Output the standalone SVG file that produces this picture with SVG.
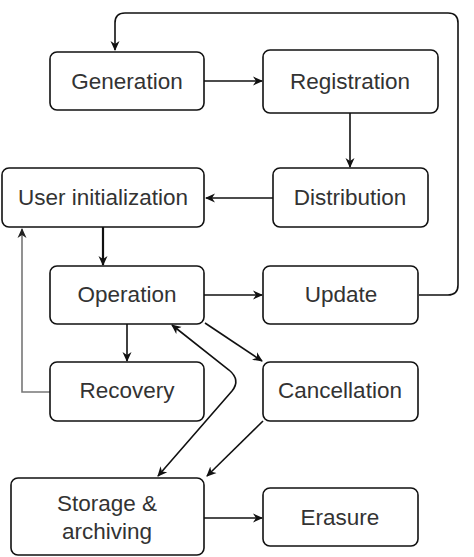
<svg xmlns="http://www.w3.org/2000/svg" width="474" height="557" viewBox="0 0 474 557">
<style>
.box{fill:#fff;stroke:#111;stroke-width:1.6}
.lbl{font-family:"Liberation Sans",Arial,sans-serif;font-size:22.5px;fill:#333;text-anchor:middle;dominant-baseline:central}
.c{fill:none;stroke:#111;stroke-width:1.6}
</style>
<defs>
<marker id="ah" viewBox="0 0 10 10" refX="9" refY="5" markerWidth="10" markerHeight="10" markerUnits="userSpaceOnUse" orient="auto-start-reverse">
<path d="M0,0.5 L10,5 L0,9.5 L3,5 Z" fill="#111"/>
</marker>
<marker id="ahg" viewBox="0 0 10 10" refX="9" refY="5" markerWidth="10" markerHeight="10" markerUnits="userSpaceOnUse" orient="auto">
<path d="M0,0.5 L10,5 L0,9.5 L3,5 Z" fill="#222"/>
</marker>
</defs>
<rect width="474" height="557" fill="#fff"/>
<g id="connectors">
<path class="c" d="M419,295 H448 Q458,295 458,285 V23 Q458,13 448,13 H125 Q115,13 115,23 V50" marker-end="url(#ah)"/>
<path class="c" d="M204,81 H262" marker-end="url(#ah)"/>
<path class="c" d="M350,113 V167" marker-end="url(#ah)"/>
<path class="c" d="M273,198 H206" marker-end="url(#ah)"/>
<path class="c" d="M103,227 V265" marker-end="url(#ah)" style="stroke-width:2.2"/>
<path class="c" d="M204,295 H262" marker-end="url(#ah)"/>
<path class="c" d="M127,324 V361" marker-end="url(#ah)"/>
<path d="M50,392 H22 V229" fill="none" stroke="#777" stroke-width="1.6" marker-end="url(#ahg)"/>
<path class="c" d="M205,323 L262,361" marker-end="url(#ah)"/>
<path class="c" d="M263,421 L207,476" marker-end="url(#ah)"/>
<path class="c" d="M172,325 L229,370 Q241,380 232,391 L158,476" marker-start="url(#ah)" marker-end="url(#ah)"/>
<path class="c" d="M204,518 H262" marker-end="url(#ah)"/>
</g>
<g id="generation"><rect class="box" x="50" y="52" width="154" height="58" rx="7"/><text class="lbl" x="127" y="81">Generation</text></g>
<g id="registration"><rect class="box" x="263" y="50" width="175" height="63" rx="7"/><text class="lbl" x="350" y="81">Registration</text></g>
<g id="user-initialization"><rect class="box" x="2" y="168" width="202" height="59" rx="7"/><text class="lbl" x="103" y="197">User initialization</text></g>
<g id="distribution"><rect class="box" x="273" y="168" width="155" height="59" rx="7"/><text class="lbl" x="350" y="197">Distribution</text></g>
<g id="operation"><rect class="box" x="50" y="266" width="154" height="58" rx="7"/><text class="lbl" x="127" y="294">Operation</text></g>
<g id="update"><rect class="box" x="263" y="266" width="155" height="58" rx="7"/><text class="lbl" x="341" y="294">Update</text></g>
<g id="recovery"><rect class="box" x="50" y="362" width="154" height="59" rx="7"/><text class="lbl" x="127" y="390">Recovery</text></g>
<g id="cancellation"><rect class="box" x="263" y="362" width="155" height="59" rx="7"/><text class="lbl" x="340" y="390">Cancellation</text></g>
<g id="storage-archiving"><rect class="box" x="11" y="478" width="193" height="77" rx="7"/><text class="lbl" x="107" y="503">Storage &amp;</text><text class="lbl" x="107" y="531">archiving</text></g>
<g id="erasure"><rect class="box" x="263" y="488" width="155" height="58" rx="7"/><text class="lbl" x="340" y="517">Erasure</text></g>
</svg>
